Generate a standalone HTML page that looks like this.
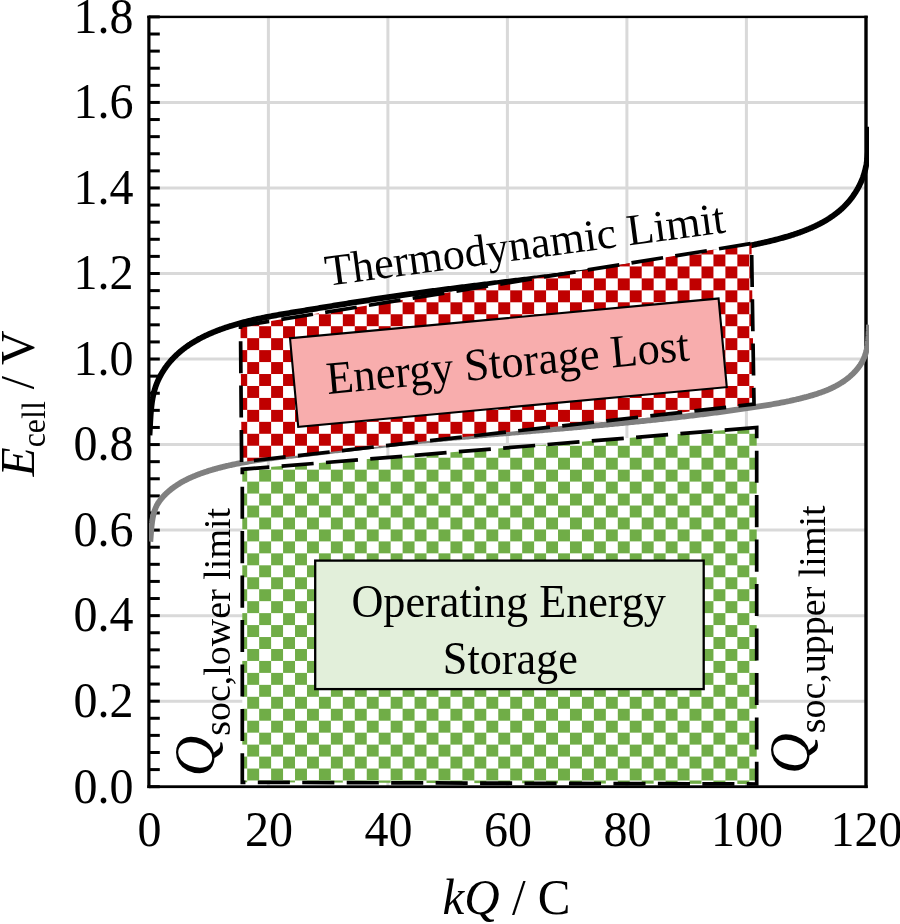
<!DOCTYPE html>
<html><head><meta charset="utf-8"><title>Energy storage chart</title>
<style>
html,body{margin:0;padding:0;background:#fff;}
svg{display:block;}
text{font-family:"Liberation Serif","DejaVu Serif",serif;fill:#000;}
</style></head><body>
<svg width="900" height="924" viewBox="0 0 900 924">
<defs>
<pattern id="chkR" patternUnits="userSpaceOnUse" x="259.15" y="326.2" width="23.91" height="23.91">
<rect x="0" y="0" width="23.91" height="23.91" fill="#fff"/>
<rect x="0" y="0" width="11.955" height="11.955" fill="#c00000"/><rect x="11.955" y="11.955" width="11.955" height="11.955" fill="#c00000"/>
</pattern>
<pattern id="chkG" patternUnits="userSpaceOnUse" x="259.15" y="326.2" width="23.91" height="23.91">
<rect x="0" y="0" width="23.91" height="23.91" fill="#fff"/>
<rect x="0" y="0" width="11.955" height="11.955" fill="#70ad47"/><rect x="11.955" y="11.955" width="11.955" height="11.955" fill="#70ad47"/>
</pattern>
</defs>
<rect width="900" height="924" fill="#fff"/>

<g stroke="#d9d9d9" stroke-width="3" fill="none">
<line x1="268.40" y1="16.9" x2="268.40" y2="786.7"/>
<line x1="387.90" y1="16.9" x2="387.90" y2="786.7"/>
<line x1="507.40" y1="16.9" x2="507.40" y2="786.7"/>
<line x1="626.90" y1="16.9" x2="626.90" y2="786.7"/>
<line x1="746.40" y1="16.9" x2="746.40" y2="786.7"/>
<line x1="148.9" y1="701.17" x2="866.0" y2="701.17"/>
<line x1="148.9" y1="615.63" x2="866.0" y2="615.63"/>
<line x1="148.9" y1="530.10" x2="866.0" y2="530.10"/>
<line x1="148.9" y1="444.57" x2="866.0" y2="444.57"/>
<line x1="148.9" y1="359.03" x2="866.0" y2="359.03"/>
<line x1="148.9" y1="273.50" x2="866.0" y2="273.50"/>
<line x1="148.9" y1="187.97" x2="866.0" y2="187.97"/>
<line x1="148.9" y1="102.43" x2="866.0" y2="102.43"/>
</g>
<g stroke="#000" stroke-width="3" fill="none">
<line x1="148.9" y1="786.70" x2="159.8" y2="786.70"/>
<line x1="148.9" y1="769.59" x2="159.8" y2="769.59"/>
<line x1="148.9" y1="752.49" x2="159.8" y2="752.49"/>
<line x1="148.9" y1="735.38" x2="159.8" y2="735.38"/>
<line x1="148.9" y1="718.27" x2="159.8" y2="718.27"/>
<line x1="148.9" y1="701.17" x2="159.8" y2="701.17"/>
<line x1="148.9" y1="684.06" x2="159.8" y2="684.06"/>
<line x1="148.9" y1="666.95" x2="159.8" y2="666.95"/>
<line x1="148.9" y1="649.85" x2="159.8" y2="649.85"/>
<line x1="148.9" y1="632.74" x2="159.8" y2="632.74"/>
<line x1="148.9" y1="615.63" x2="159.8" y2="615.63"/>
<line x1="148.9" y1="598.53" x2="159.8" y2="598.53"/>
<line x1="148.9" y1="581.42" x2="159.8" y2="581.42"/>
<line x1="148.9" y1="564.31" x2="159.8" y2="564.31"/>
<line x1="148.9" y1="547.21" x2="159.8" y2="547.21"/>
<line x1="148.9" y1="530.10" x2="159.8" y2="530.10"/>
<line x1="148.9" y1="512.99" x2="159.8" y2="512.99"/>
<line x1="148.9" y1="495.89" x2="159.8" y2="495.89"/>
<line x1="148.9" y1="478.78" x2="159.8" y2="478.78"/>
<line x1="148.9" y1="461.67" x2="159.8" y2="461.67"/>
<line x1="148.9" y1="444.57" x2="159.8" y2="444.57"/>
<line x1="148.9" y1="427.46" x2="159.8" y2="427.46"/>
<line x1="148.9" y1="410.35" x2="159.8" y2="410.35"/>
<line x1="148.9" y1="393.25" x2="159.8" y2="393.25"/>
<line x1="148.9" y1="376.14" x2="159.8" y2="376.14"/>
<line x1="148.9" y1="359.03" x2="159.8" y2="359.03"/>
<line x1="148.9" y1="341.93" x2="159.8" y2="341.93"/>
<line x1="148.9" y1="324.82" x2="159.8" y2="324.82"/>
<line x1="148.9" y1="307.71" x2="159.8" y2="307.71"/>
<line x1="148.9" y1="290.61" x2="159.8" y2="290.61"/>
<line x1="148.9" y1="273.50" x2="159.8" y2="273.50"/>
<line x1="148.9" y1="256.39" x2="159.8" y2="256.39"/>
<line x1="148.9" y1="239.29" x2="159.8" y2="239.29"/>
<line x1="148.9" y1="222.18" x2="159.8" y2="222.18"/>
<line x1="148.9" y1="205.07" x2="159.8" y2="205.07"/>
<line x1="148.9" y1="187.97" x2="159.8" y2="187.97"/>
<line x1="148.9" y1="170.86" x2="159.8" y2="170.86"/>
<line x1="148.9" y1="153.75" x2="159.8" y2="153.75"/>
<line x1="148.9" y1="136.65" x2="159.8" y2="136.65"/>
<line x1="148.9" y1="119.54" x2="159.8" y2="119.54"/>
<line x1="148.9" y1="102.43" x2="159.8" y2="102.43"/>
<line x1="148.9" y1="85.33" x2="159.8" y2="85.33"/>
<line x1="148.9" y1="68.22" x2="159.8" y2="68.22"/>
<line x1="148.9" y1="51.11" x2="159.8" y2="51.11"/>
<line x1="148.9" y1="34.01" x2="159.8" y2="34.01"/>
<line x1="148.9" y1="16.90" x2="159.8" y2="16.90"/>
</g>
<rect x="147.3" y="15.7" width="3.2" height="772.4000000000001" fill="#000"/>
<rect x="864.3" y="15.7" width="3.4" height="772.4000000000001" fill="#000"/>
<rect x="147.3" y="15.7" width="720.4" height="2.4" fill="#000"/>
<rect x="147.3" y="785.3000000000001" width="720.4" height="2.8" fill="#000"/>
<clipPath id="cp"><rect x="149" y="0" width="720" height="800"/></clipPath>
<path d="M150.29,541.65 L150.35,540.92 L150.40,540.40 L150.42,540.19 L150.48,539.47 L150.51,539.15 L150.54,538.74 L150.60,538.01 L150.61,537.90 L150.66,537.29 L150.71,536.65 L150.72,536.56 L150.77,535.84 L150.80,535.40 L150.82,535.11 L150.88,534.39 L150.90,534.15 L150.93,533.66 L150.99,532.94 L150.99,532.91 L151.04,532.22 L151.09,531.66 L151.10,531.50 L151.16,530.77 L151.19,530.42 L151.22,530.05 L151.28,529.34 L151.29,529.18 L151.34,528.62 L151.41,527.95 L151.41,527.90 L151.48,527.18 L151.53,526.72 L151.56,526.47 L151.64,525.76 L151.67,525.49 L151.72,525.04 L151.81,524.33 L151.81,524.26 L151.89,523.62 L151.96,523.04 L151.97,522.91 L152.06,522.21 L152.11,521.83 L152.16,521.50 L152.26,520.80 L152.29,520.62 L152.37,520.10 L152.48,519.42 L152.48,519.40 L152.60,518.70 L152.69,518.22 L152.73,518.01 L152.86,517.32 L152.92,517.02 L153.00,516.63 L153.15,515.94 L153.17,515.84 L153.31,515.25 L153.45,514.66 L153.47,514.57 L153.65,513.88 L153.75,513.49 L153.83,513.21 L154.02,512.53 L154.09,512.32 L154.23,511.86 L154.44,511.18 L154.44,511.17 L154.66,510.52 L154.83,510.02 L154.89,509.85 L155.14,509.19 L155.26,508.88 L155.39,508.53 L155.66,507.87 L155.71,507.75 L155.94,507.22 L156.20,506.62 L156.23,506.57 L156.53,505.92 L156.72,505.51 L156.84,505.28 L157.19,504.64 L157.32,504.41 L157.57,504.00 L157.97,503.36 L158.00,503.32 L158.38,502.73 L158.72,502.24 L158.80,502.11 L159.24,501.49 L159.47,501.17 L159.69,500.87 L160.14,500.25 L160.26,500.11 L160.61,499.64 L161.08,499.06 L161.10,499.03 L161.59,498.43 L161.93,498.02 L162.09,497.83 L162.61,497.24 L162.82,497.00 L163.14,496.65 L163.68,496.06 L163.74,495.99 L164.22,495.48 L164.69,494.99 L164.78,494.90 L165.35,494.33 L165.68,494.01 L165.93,493.76 L166.52,493.19 L166.69,493.03 L167.12,492.64 L167.73,492.08 L167.74,492.08 L168.35,491.53 L168.81,491.14 L168.98,490.99 L169.62,490.45 L169.91,490.21 L170.27,489.91 L170.93,489.38 L171.04,489.29 L171.59,488.86 L172.20,488.40 L172.27,488.34 L172.95,487.83 L173.38,487.52 L173.65,487.32 L174.35,486.82 L174.58,486.65 L175.06,486.32 L175.78,485.83 L175.82,485.80 L176.50,485.34 L177.07,484.97 L177.24,484.86 L177.98,484.39 L178.35,484.15 L178.73,483.92 L179.49,483.45 L179.65,483.35 L180.25,483.00 L180.98,482.57 L181.03,482.55 L181.81,482.10 L182.32,481.81 L182.59,481.66 L183.39,481.22 L183.69,481.06 L184.19,480.80 L184.99,480.37 L185.08,480.33 L185.81,479.95 L186.48,479.61 L186.63,479.54 L187.45,479.13 L187.90,478.91 L188.28,478.73 L189.12,478.33 L189.34,478.23 L189.97,477.94 L190.80,477.56 L190.81,477.56 L191.67,477.17 L192.28,476.91 L192.53,476.80 L193.40,476.43 L193.77,476.27 L194.27,476.06 L195.14,475.70 L195.27,475.64 L196.02,475.34 L196.79,475.03 L196.91,474.99 L197.80,474.64 L198.32,474.44 L198.69,474.30 L199.59,473.96 L199.87,473.86 L200.49,473.63 L201.40,473.30 L201.43,473.29 L202.31,472.97 L203.00,472.73 L203.22,472.65 L204.14,472.34 L204.58,472.19 L205.06,472.02 L205.98,471.72 L206.17,471.66 L206.91,471.41 L207.77,471.14 L207.84,471.11 L208.78,470.82 L209.37,470.63 L209.71,470.53 L210.65,470.24 L210.99,470.14 L211.59,469.96 L212.54,469.68 L212.61,469.66 L213.48,469.40 L214.24,469.19 L214.43,469.13 L215.38,468.87 L215.88,468.73 L216.33,468.60 L217.29,468.34 L217.52,468.28 L218.24,468.08 L219.16,467.84 L219.20,467.83 L220.16,467.58 L220.81,467.41 L221.11,467.34 L222.07,467.09 L222.46,467.00 L223.03,466.85 L224.00,466.62 L224.12,466.59 L224.96,466.38 L225.78,466.19 L225.92,466.15 L226.88,465.93 L227.43,465.80 L227.85,465.70 L228.81,465.48 L229.09,465.42 L229.77,465.27 L230.74,465.05 L230.75,465.05 L231.70,464.84 L232.41,464.69 L234.07,464.33 L235.73,463.99 L237.40,463.65 L239.06,463.32 L240.72,463.00 L242.39,462.69 L244.06,462.38 L245.73,462.08 L247.39,461.79 L249.06,461.50 L250.73,461.22 L252.41,460.94 L254.08,460.67 L255.75,460.41 L257.43,460.15 L259.10,459.90 L260.78,459.65 L262.45,459.41 L264.13,459.17 L265.81,458.94 L267.49,458.71 L269.17,458.48 L270.85,458.26 L272.53,458.04 L274.21,457.82 L275.90,457.61 L277.58,457.40 L279.27,457.19 L280.95,456.99 L282.64,456.78 L284.33,456.58 L286.01,456.38 L287.70,456.18 L289.39,455.99 L291.08,455.79 L292.77,455.60 L294.46,455.40 L296.16,455.21 L297.85,455.01 L299.54,454.82 L301.24,454.62 L302.93,454.41 L304.63,454.20 L306.33,454.00 L308.02,453.79 L309.72,453.58 L311.42,453.38 L313.12,453.17 L314.82,452.96 L316.52,452.75 L318.22,452.55 L319.92,452.34 L321.62,452.13 L323.33,451.92 L325.03,451.72 L326.73,451.51 L328.44,451.30 L330.14,451.09 L331.85,450.89 L333.55,450.68 L335.26,450.47 L336.97,450.27 L338.68,450.06 L340.38,449.85 L342.09,449.65 L343.80,449.44 L345.51,449.24 L347.22,449.03 L348.93,448.83 L350.64,448.62 L352.36,448.42 L354.07,448.22 L355.78,448.02 L357.49,447.81 L359.21,447.61 L360.92,447.41 L362.63,447.21 L364.35,447.01 L366.06,446.82 L367.78,446.62 L369.50,446.42 L371.21,446.23 L372.93,446.03 L374.65,445.84 L376.36,445.64 L378.08,445.45 L379.80,445.26 L381.52,445.07 L383.24,444.88 L384.95,444.69 L386.67,444.50 L388.39,444.31 L390.11,444.13 L391.83,443.94 L393.55,443.75 L395.27,443.57 L397.00,443.39 L398.72,443.20 L400.44,443.02 L402.16,442.84 L403.88,442.66 L405.60,442.48 L407.33,442.30 L409.05,442.12 L410.77,441.94 L412.50,441.77 L414.22,441.59 L415.94,441.41 L417.67,441.24 L419.39,441.06 L421.11,440.89 L422.84,440.72 L424.56,440.54 L426.29,440.37 L428.01,440.20 L429.74,440.03 L431.46,439.86 L433.19,439.69 L434.91,439.52 L436.64,439.35 L438.36,439.18 L440.09,439.01 L441.81,438.85 L443.54,438.68 L445.26,438.51 L446.99,438.35 L448.71,438.18 L450.44,438.02 L452.17,437.87 L453.89,437.71 L455.62,437.56 L457.34,437.41 L459.07,437.26 L460.79,437.11 L462.52,436.96 L464.25,436.81 L465.97,436.66 L467.70,436.51 L469.42,436.36 L471.15,436.21 L472.87,436.06 L474.60,435.91 L476.32,435.76 L478.05,435.62 L479.77,435.47 L481.50,435.32 L483.22,435.17 L484.95,435.03 L486.67,434.88 L488.40,434.73 L490.12,434.59 L491.85,434.44 L493.57,434.30 L495.29,434.15 L497.02,434.01 L498.74,433.86 L500.47,433.72 L502.19,433.57 L503.91,433.43 L505.64,433.28 L507.36,433.14 L509.08,432.99 L510.80,432.85 L512.53,432.70 L514.25,432.56 L515.97,432.41 L517.69,432.27 L519.41,432.13 L521.13,431.98 L522.86,431.84 L524.58,431.69 L526.30,431.55 L528.02,431.41 L529.74,431.26 L531.46,431.12 L533.18,430.97 L534.90,430.83 L536.62,430.68 L538.34,430.54 L540.06,430.39 L541.78,430.25 L543.50,430.10 L545.22,429.96 L546.94,429.81 L548.66,429.67 L550.37,429.52 L552.09,429.37 L553.81,429.23 L555.53,429.08 L557.25,428.93 L558.97,428.79 L560.68,428.64 L562.40,428.49 L564.12,428.34 L565.84,428.19 L567.55,428.05 L569.27,427.90 L570.99,427.75 L572.70,427.60 L574.42,427.45 L576.14,427.30 L577.85,427.15 L579.57,426.99 L581.28,426.84 L583.00,426.69 L584.71,426.54 L586.43,426.39 L588.15,426.23 L589.86,426.08 L591.57,425.92 L593.29,425.77 L595.00,425.61 L596.72,425.46 L598.43,425.30 L600.15,425.14 L601.86,424.99 L603.57,424.83 L605.29,424.67 L607.00,424.51 L608.71,424.35 L610.43,424.19 L612.14,424.03 L613.85,423.86 L615.57,423.70 L617.28,423.54 L618.99,423.37 L620.70,423.21 L622.41,423.04 L624.13,422.88 L625.84,422.71 L627.55,422.54 L629.26,422.38 L630.97,422.21 L632.68,422.04 L634.39,421.87 L636.10,421.69 L637.81,421.52 L639.52,421.35 L641.23,421.17 L642.94,421.00 L644.65,420.82 L646.36,420.65 L648.07,420.47 L649.78,420.29 L651.49,420.11 L653.20,419.93 L654.91,419.75 L656.62,419.57 L658.33,419.39 L660.04,419.20 L661.74,419.02 L663.45,418.83 L665.16,418.64 L666.87,418.46 L668.58,418.27 L670.28,418.08 L671.99,417.88 L673.70,417.69 L675.40,417.50 L677.11,417.30 L678.82,417.11 L680.52,416.91 L682.23,416.71 L683.94,416.52 L685.64,416.32 L687.35,416.11 L689.05,415.91 L690.76,415.71 L692.47,415.50 L694.17,415.30 L695.88,415.09 L697.58,414.88 L699.29,414.67 L700.99,414.46 L702.69,414.25 L704.40,414.03 L706.10,413.82 L707.81,413.60 L709.51,413.39 L711.21,413.17 L712.92,412.95 L714.62,412.72 L716.33,412.50 L718.03,412.28 L719.73,412.05 L721.43,411.82 L723.14,411.60 L724.84,411.37 L726.54,411.13 L728.24,410.90 L729.95,410.67 L731.65,410.43 L733.35,410.19 L735.05,409.95 L736.75,409.71 L738.45,409.47 L740.15,409.23 L741.85,408.98 L743.56,408.74 L745.26,408.49 L746.96,408.24 L748.66,407.99 L750.36,407.73 L752.06,407.48 L753.76,407.22 L755.46,406.97 L757.16,406.71 L758.85,406.44 L760.55,406.18 L762.25,405.91 L763.95,405.64 L765.64,405.37 L767.34,405.09 L769.03,404.81 L770.72,404.53 L772.41,404.24 L774.10,403.95 L775.79,403.65 L777.47,403.34 L779.15,403.03 L780.83,402.71 L782.51,402.39 L784.18,402.06 L785.85,401.73 L787.52,401.38 L788.23,401.23 L789.18,401.03 L789.19,401.03 L790.16,400.82 L790.84,400.67 L791.12,400.61 L792.08,400.40 L792.50,400.31 L793.04,400.18 L794.00,399.96 L794.15,399.93 L794.96,399.74 L795.80,399.55 L795.92,399.52 L796.87,399.29 L797.44,399.15 L797.83,399.06 L798.78,398.82 L799.08,398.75 L799.73,398.59 L800.68,398.36 L800.71,398.35 L801.63,398.13 L802.34,397.95 L802.57,397.90 L803.52,397.66 L803.97,397.55 L804.46,397.42 L805.40,397.18 L805.59,397.13 L806.34,396.93 L807.20,396.70 L807.28,396.68 L808.21,396.43 L808.81,396.26 L809.14,396.17 L810.07,395.91 L810.41,395.81 L811.00,395.64 L811.93,395.37 L812.00,395.35 L812.85,395.10 L813.59,394.88 L813.77,394.82 L814.69,394.54 L815.17,394.39 L815.60,394.25 L816.51,393.96 L816.73,393.89 L817.41,393.66 L818.29,393.37 L818.32,393.36 L819.21,393.06 L819.83,392.85 L820.11,392.75 L821.00,392.44 L821.36,392.31 L821.89,392.12 L822.77,391.79 L822.88,391.75 L823.64,391.46 L824.39,391.18 L824.52,391.13 L825.38,390.79 L825.88,390.60 L826.25,390.45 L827.10,390.10 L827.36,390.00 L827.96,389.75 L828.80,389.39 L828.82,389.38 L829.65,389.02 L830.26,388.75 L830.48,388.64 L831.31,388.26 L831.69,388.08 L832.13,387.86 L832.95,387.46 L833.10,387.39 L833.76,387.05 L834.49,386.69 L834.57,386.64 L835.37,386.23 L835.86,385.97 L836.16,385.80 L836.94,385.38 L837.21,385.23 L837.72,384.94 L838.49,384.50 L838.54,384.47 L839.26,384.06 L839.85,383.70 L840.01,383.60 L840.76,383.14 L841.13,382.91 L841.50,382.68 L842.23,382.21 L842.40,382.10 L842.96,381.73 L843.64,381.28 L843.68,381.25 L844.38,380.76 L844.85,380.43 L845.08,380.26 L845.78,379.76 L846.04,379.57 L846.46,379.25 L847.13,378.74 L847.21,378.68 L847.80,378.22 L848.34,377.78 L848.45,377.69 L849.10,377.16 L849.45,376.86 L849.74,376.62 L850.37,376.07 L850.54,375.92 L850.99,375.52 L851.59,374.97 L851.60,374.97 L852.20,374.41 L852.62,374.00 L852.79,373.84 L853.37,373.27 L853.61,373.02 L853.93,372.69 L854.49,372.11 L854.58,372.02 L855.04,371.52 L855.52,371.00 L855.58,370.93 L856.11,370.33 L856.42,369.97 L856.63,369.73 L857.14,369.12 L857.30,368.93 L857.63,368.51 L858.12,367.90 L858.14,367.87 L858.59,367.28 L858.95,366.80 L859.06,366.65 L859.51,366.03 L859.72,365.72 L859.95,365.39 L860.38,364.73 L860.47,364.59 L860.80,364.05 L861.17,363.42 L861.20,363.37 L861.60,362.69 L861.85,362.25 L861.98,362.01 L862.35,361.33 L862.48,361.07 L862.71,360.64 L863.05,359.95 L863.08,359.89 L863.39,359.26 L863.65,358.70 L863.71,358.56 L864.01,357.87 L864.17,357.50 L864.31,357.17 L864.59,356.47 L864.66,356.30 L864.86,355.77 L865.11,355.09 L865.12,355.07 L865.36,354.37 L865.52,353.88 L865.59,353.66 L865.81,352.96 L865.89,352.66 L866.01,352.25 L866.21,351.56 L866.23,351.46 L866.39,350.86 L866.54,350.27 L866.56,350.17 L866.73,349.47 L866.82,349.06 L866.88,348.77 L867.02,348.07 L867.06,347.86 L867.16,347.37 L867.28,346.66 L867.28,346.65 L867.40,345.96 L867.48,345.43 L867.51,345.25 L867.61,344.54 L867.65,344.21 L867.70,343.83 L867.79,343.12 L867.81,342.99 L867.87,342.41 L867.94,341.77 L867.95,341.70 L868.02,340.99 L868.06,340.55 L868.09,340.28 L868.15,339.57 L868.17,339.32 L868.21,338.85 L868.26,338.14 L868.26,338.09 L868.31,337.43 L868.35,336.86 L868.36,336.71 L868.40,336.00 L868.43,335.64 L868.45,335.29 L868.49,334.57 L868.50,334.41 L868.53,333.86 L868.57,333.18 L868.57,333.15 L868.61,332.44 L868.63,331.96 L868.64,331.73 L868.68,331.01 L868.70,330.73 L868.72,330.31 L868.77,329.60 L868.77,329.51 L868.81,328.89 L868.85,328.30 L868.85,328.18 L868.90,327.48 L868.93,327.08 L868.95,326.77 L869.01,326.07 L869.02,325.88 L869.06,325.37 L869.12,324.67" stroke="#808080" stroke-width="5.8" fill="none" stroke-linejoin="round" clip-path="url(#cp)"/>
<path d="M149.49,435.37 L149.55,434.33 L149.60,433.58 L149.62,433.29 L149.68,432.25 L149.71,431.79 L149.74,431.22 L149.80,430.18 L149.81,430.01 L149.86,429.14 L149.91,428.22 L149.92,428.10 L149.97,427.07 L150.00,426.44 L150.02,426.03 L150.08,425.00 L150.10,424.66 L150.13,423.96 L150.19,422.93 L150.19,422.88 L150.24,421.90 L150.29,421.10 L150.30,420.87 L150.36,419.84 L150.39,419.33 L150.42,418.81 L150.48,417.78 L150.49,417.56 L150.54,416.75 L150.61,415.80 L150.61,415.73 L150.68,414.71 L150.73,414.04 L150.76,413.68 L150.84,412.66 L150.87,412.28 L150.92,411.65 L151.01,410.63 L151.02,410.53 L151.10,409.62 L151.18,408.79 L151.20,408.61 L151.30,407.60 L151.36,407.06 L151.41,406.59 L151.53,405.59 L151.56,405.33 L151.65,404.59 L151.78,403.61 L151.78,403.59 L151.92,402.59 L152.02,401.90 L152.07,401.60 L152.22,400.61 L152.29,400.19 L152.39,399.62 L152.56,398.64 L152.58,398.50 L152.74,397.66 L152.91,396.81 L152.93,396.68 L153.13,395.71 L153.26,395.14 L153.34,394.74 L153.57,393.77 L153.64,393.48 L153.80,392.81 L154.05,391.85 L154.05,391.82 L154.30,390.89 L154.50,390.18 L154.57,389.94 L154.85,389.00 L154.99,388.55 L155.15,388.05 L155.45,387.12 L155.51,386.94 L155.77,386.18 L156.08,385.34 L156.11,385.25 L156.45,384.33 L156.68,383.75 L156.81,383.41 L157.19,382.49 L157.32,382.17 L157.57,381.58 L157.97,380.68 L158.00,380.61 L158.38,379.78 L158.72,379.07 L158.80,378.88 L159.24,377.99 L159.47,377.54 L159.69,377.11 L160.14,376.23 L160.26,376.02 L160.61,375.36 L161.08,374.53 L161.10,374.49 L161.59,373.63 L161.93,373.05 L162.09,372.77 L162.61,371.92 L162.82,371.58 L163.14,371.08 L163.68,370.24 L163.74,370.14 L164.22,369.41 L164.69,368.71 L164.78,368.59 L165.35,367.77 L165.68,367.31 L165.93,366.95 L166.52,366.15 L166.69,365.92 L167.12,365.35 L167.73,364.56 L167.74,364.55 L168.35,363.77 L168.81,363.21 L168.98,363.00 L169.62,362.22 L169.91,361.88 L170.27,361.46 L170.93,360.70 L171.04,360.58 L171.59,359.96 L172.20,359.30 L172.27,359.21 L172.95,358.48 L173.38,358.04 L173.65,357.75 L174.35,357.04 L174.58,356.80 L175.06,356.33 L175.78,355.62 L175.82,355.59 L176.50,354.93 L177.07,354.40 L177.24,354.24 L177.98,353.56 L178.35,353.23 L178.73,352.90 L179.49,352.23 L179.65,352.09 L180.25,351.58 L180.98,350.98 L181.03,350.94 L181.81,350.30 L182.32,349.88 L182.59,349.67 L183.39,349.05 L183.69,348.82 L184.19,348.44 L184.99,347.83 L185.08,347.77 L185.81,347.23 L186.48,346.75 L186.63,346.64 L187.45,346.06 L187.90,345.75 L188.28,345.49 L189.12,344.92 L189.34,344.77 L189.97,344.36 L190.80,343.82 L190.81,343.81 L191.67,343.26 L192.28,342.88 L192.53,342.73 L193.40,342.19 L193.77,341.97 L194.27,341.67 L195.14,341.15 L195.27,341.08 L196.02,340.64 L196.79,340.21 L196.91,340.14 L197.80,339.64 L198.32,339.35 L198.69,339.15 L199.59,338.67 L199.87,338.52 L200.49,338.19 L201.40,337.72 L201.43,337.71 L202.31,337.26 L203.00,336.91 L203.22,336.80 L204.14,336.35 L204.58,336.14 L205.06,335.91 L205.98,335.47 L206.17,335.38 L206.91,335.03 L207.77,334.64 L207.84,334.61 L208.78,334.18 L209.37,333.92 L209.71,333.77 L210.65,333.36 L210.99,333.21 L211.59,332.96 L212.54,332.56 L212.61,332.52 L213.48,332.16 L214.24,331.85 L214.43,331.78 L215.38,331.39 L215.88,331.20 L216.33,331.02 L217.29,330.64 L217.52,330.55 L218.24,330.28 L219.16,329.93 L219.20,329.92 L220.16,329.56 L220.81,329.32 L221.11,329.21 L222.07,328.86 L222.46,328.72 L223.03,328.52 L224.00,328.18 L224.12,328.14 L224.96,327.85 L225.78,327.57 L225.92,327.52 L226.88,327.20 L227.43,327.02 L227.85,326.88 L228.81,326.56 L229.09,326.47 L229.77,326.25 L230.74,325.95 L230.75,325.94 L231.70,325.65 L232.41,325.43 L234.07,324.92 L235.73,324.43 L237.40,323.95 L239.06,323.48 L240.72,323.02 L242.39,322.57 L244.06,322.13 L245.73,321.70 L247.39,321.28 L249.06,320.87 L250.73,320.47 L252.41,320.08 L254.08,319.69 L255.75,319.32 L257.43,318.95 L259.10,318.59 L260.78,318.23 L262.45,317.88 L264.13,317.54 L265.81,317.21 L267.49,316.88 L269.17,316.56 L270.85,316.24 L272.53,315.93 L274.21,315.62 L275.90,315.31 L277.58,315.01 L279.27,314.72 L280.95,314.42 L282.64,314.13 L284.33,313.85 L286.01,313.56 L287.70,313.28 L289.39,313.00 L291.08,312.72 L292.77,312.44 L294.46,312.16 L296.16,311.88 L297.85,311.61 L299.54,311.33 L301.24,311.05 L302.93,310.77 L304.63,310.49 L306.33,310.21 L308.02,309.94 L309.72,309.66 L311.42,309.38 L313.12,309.10 L314.82,308.82 L316.52,308.54 L318.22,308.25 L319.92,307.97 L321.62,307.69 L323.33,307.41 L325.03,307.13 L326.73,306.85 L328.44,306.57 L330.14,306.29 L331.85,306.01 L333.55,305.73 L335.26,305.45 L336.97,305.17 L338.68,304.90 L340.38,304.62 L342.09,304.34 L343.80,304.06 L345.51,303.79 L347.22,303.51 L348.93,303.23 L350.64,302.96 L352.36,302.69 L354.07,302.41 L355.78,302.14 L357.49,301.87 L359.21,301.60 L360.92,301.33 L362.63,301.06 L364.35,300.79 L366.06,300.52 L367.78,300.26 L369.50,299.99 L371.21,299.73 L372.93,299.47 L374.65,299.20 L376.36,298.94 L378.08,298.69 L379.80,298.43 L381.52,298.17 L383.24,297.92 L384.95,297.66 L386.67,297.41 L388.39,297.16 L390.11,296.91 L391.83,296.66 L393.55,296.41 L395.27,296.16 L397.00,295.92 L398.72,295.67 L400.44,295.43 L402.16,295.19 L403.88,294.94 L405.60,294.70 L407.33,294.46 L409.05,294.23 L410.77,293.99 L412.50,293.75 L414.22,293.52 L415.94,293.28 L417.67,293.05 L419.39,292.81 L421.11,292.58 L422.84,292.35 L424.56,292.12 L426.29,291.89 L428.01,291.66 L429.74,291.43 L431.46,291.21 L433.19,290.98 L434.91,290.75 L436.64,290.53 L438.36,290.30 L440.09,290.08 L441.81,289.86 L443.54,289.64 L445.26,289.42 L446.99,289.20 L448.71,288.98 L450.44,288.76 L452.17,288.54 L453.89,288.32 L455.62,288.10 L457.34,287.88 L459.07,287.67 L460.79,287.45 L462.52,287.24 L464.25,287.02 L465.97,286.81 L467.70,286.59 L469.42,286.38 L471.15,286.17 L472.87,285.96 L474.60,285.74 L476.32,285.53 L478.05,285.32 L479.77,285.11 L481.50,284.90 L483.22,284.69 L484.95,284.48 L486.67,284.27 L488.40,284.06 L490.12,283.85 L491.85,283.65 L493.57,283.44 L495.29,283.23 L497.02,283.02 L498.74,282.81 L500.47,282.61 L502.19,282.40 L503.91,282.19 L505.64,281.99 L507.36,281.78 L509.08,281.57 L510.80,281.37 L512.53,281.16 L514.25,280.96 L515.97,280.75 L517.69,280.54 L519.41,280.34 L521.13,280.13 L522.86,279.93 L524.58,279.72 L526.30,279.51 L528.02,279.31 L529.74,279.10 L531.46,278.89 L533.18,278.69 L534.90,278.48 L536.62,278.28 L538.34,278.07 L540.06,277.86 L541.78,277.65 L543.50,277.45 L545.22,277.24 L546.94,277.03 L548.66,276.82 L550.37,276.61 L552.09,276.40 L553.81,276.20 L555.53,275.99 L557.25,275.78 L558.97,275.57 L560.68,275.36 L562.40,275.14 L564.12,274.93 L565.84,274.72 L567.55,274.51 L569.27,274.30 L570.99,274.08 L572.70,273.87 L574.42,273.65 L576.14,273.44 L577.85,273.22 L579.57,273.01 L581.28,272.79 L583.00,272.57 L584.71,272.35 L586.43,272.14 L588.15,271.92 L589.86,271.70 L591.57,271.48 L593.29,271.25 L595.00,271.03 L596.72,270.81 L598.43,270.59 L600.15,270.36 L601.86,270.14 L603.57,269.91 L605.29,269.68 L607.00,269.46 L608.71,269.23 L610.43,269.00 L612.14,268.77 L613.85,268.54 L615.57,268.30 L617.28,268.07 L618.99,267.84 L620.70,267.60 L622.41,267.36 L624.13,267.13 L625.84,266.89 L627.55,266.65 L629.26,266.41 L630.97,266.17 L632.68,265.92 L634.39,265.68 L636.10,265.43 L637.81,265.19 L639.52,264.94 L641.23,264.69 L642.94,264.44 L644.65,264.19 L646.36,263.94 L648.07,263.69 L649.78,263.43 L651.49,263.17 L653.20,262.92 L654.91,262.66 L656.62,262.40 L658.33,262.14 L660.04,261.87 L661.74,261.61 L663.45,261.34 L665.16,261.08 L666.87,260.81 L668.58,260.54 L670.28,260.27 L671.99,259.99 L673.70,259.72 L675.40,259.44 L677.11,259.16 L678.82,258.88 L680.52,258.60 L682.23,258.32 L683.94,258.04 L685.64,257.75 L687.35,257.46 L689.05,257.17 L690.76,256.88 L692.47,256.59 L694.17,256.30 L695.88,256.00 L697.58,255.70 L699.29,255.40 L700.99,255.10 L702.69,254.80 L704.40,254.49 L706.10,254.18 L707.81,253.88 L709.51,253.56 L711.21,253.25 L712.92,252.94 L714.62,252.62 L716.33,252.30 L718.03,251.98 L719.73,251.66 L721.43,251.33 L723.14,251.01 L724.84,250.68 L726.54,250.35 L728.24,250.02 L729.95,249.68 L731.65,249.34 L733.35,249.00 L735.05,248.66 L736.75,248.32 L738.45,247.97 L740.15,247.63 L741.85,247.28 L743.56,246.92 L745.26,246.57 L746.96,246.21 L748.66,245.85 L750.36,245.49 L752.06,245.13 L753.76,244.76 L755.46,244.39 L757.16,244.02 L758.85,243.65 L760.55,243.27 L762.25,242.89 L763.95,242.51 L765.64,242.12 L767.34,241.72 L769.03,241.32 L770.72,240.91 L772.41,240.50 L774.10,240.08 L775.79,239.65 L777.47,239.22 L779.15,238.77 L780.83,238.32 L782.51,237.86 L784.18,237.39 L785.85,236.91 L787.52,236.42 L788.23,236.21 L789.18,235.92 L789.19,235.91 L790.16,235.62 L790.84,235.40 L791.12,235.32 L792.08,235.01 L792.50,234.88 L793.04,234.70 L794.00,234.39 L794.15,234.34 L794.96,234.07 L795.80,233.79 L795.92,233.75 L796.87,233.43 L797.44,233.23 L797.83,233.10 L798.78,232.76 L799.08,232.66 L799.73,232.42 L800.68,232.08 L800.71,232.07 L801.63,231.73 L802.34,231.46 L802.57,231.38 L803.52,231.02 L803.97,230.84 L804.46,230.65 L805.40,230.28 L805.59,230.21 L806.34,229.91 L807.20,229.56 L807.28,229.53 L808.21,229.14 L808.81,228.90 L809.14,228.75 L810.07,228.36 L810.41,228.21 L811.00,227.96 L811.93,227.55 L812.00,227.51 L812.85,227.14 L813.59,226.80 L813.77,226.72 L814.69,226.29 L815.17,226.06 L815.60,225.86 L816.51,225.42 L816.73,225.31 L817.41,224.98 L818.29,224.54 L818.32,224.53 L819.21,224.07 L819.83,223.75 L820.11,223.61 L821.00,223.14 L821.36,222.94 L821.89,222.66 L822.77,222.18 L822.88,222.11 L823.64,221.69 L824.39,221.26 L824.52,221.19 L825.38,220.68 L825.88,220.39 L826.25,220.17 L827.10,219.65 L827.36,219.50 L827.96,219.13 L828.80,218.60 L828.82,218.59 L829.65,218.05 L830.26,217.65 L830.48,217.51 L831.31,216.95 L831.69,216.69 L832.13,216.39 L832.95,215.81 L833.10,215.71 L833.76,215.24 L834.49,214.71 L834.57,214.65 L835.37,214.05 L835.86,213.68 L836.16,213.45 L836.94,212.84 L837.21,212.63 L837.72,212.22 L838.49,211.59 L838.54,211.55 L839.26,210.95 L839.85,210.44 L840.01,210.30 L840.76,209.65 L841.13,209.32 L841.50,208.99 L842.23,208.31 L842.40,208.16 L842.96,207.63 L843.64,206.98 L843.68,206.94 L844.38,206.24 L844.85,205.77 L845.08,205.54 L845.78,204.82 L846.04,204.54 L846.46,204.09 L847.13,203.36 L847.21,203.27 L847.80,202.61 L848.34,201.99 L848.45,201.86 L849.10,201.10 L849.45,200.67 L849.74,200.33 L850.37,199.55 L850.54,199.34 L850.99,198.76 L851.59,197.97 L851.60,197.97 L852.20,197.17 L852.62,196.59 L852.79,196.36 L853.37,195.54 L853.61,195.18 L853.93,194.71 L854.49,193.88 L854.58,193.75 L855.04,193.04 L855.52,192.30 L855.58,192.20 L856.11,191.34 L856.42,190.83 L856.63,190.48 L857.14,189.62 L857.30,189.34 L857.63,188.75 L858.12,187.87 L858.14,187.83 L858.59,186.98 L858.95,186.30 L859.06,186.09 L859.51,185.19 L859.72,184.76 L859.95,184.29 L860.38,183.38 L860.47,183.19 L860.80,182.47 L861.17,181.62 L861.20,181.55 L861.60,180.62 L861.85,180.02 L861.98,179.69 L862.35,178.76 L862.48,178.41 L862.71,177.82 L863.05,176.88 L863.08,176.79 L863.39,175.93 L863.65,175.16 L863.71,174.98 L864.01,174.02 L864.17,173.51 L864.31,173.06 L864.59,172.09 L864.66,171.85 L864.86,171.12 L865.11,170.18 L865.12,170.15 L865.36,169.18 L865.52,168.50 L865.59,168.20 L865.81,167.21 L865.89,166.80 L866.01,166.23 L866.21,165.24 L866.23,165.10 L866.39,164.25 L866.54,163.39 L866.56,163.25 L866.73,162.26 L866.82,161.68 L866.88,161.26 L867.02,160.26 L867.06,159.95 L867.16,159.25 L867.28,158.25 L867.28,158.22 L867.40,157.24 L867.48,156.49 L867.51,156.23 L867.61,155.22 L867.65,154.75 L867.70,154.21 L867.79,153.19 L867.81,153.01 L867.87,152.18 L867.94,151.26 L867.95,151.16 L868.02,150.14 L868.06,149.51 L868.09,149.13 L868.15,148.11 L868.17,147.76 L868.21,147.09 L868.26,146.07 L868.26,146.00 L868.31,145.05 L868.35,144.25 L868.36,144.03 L868.40,143.01 L868.43,142.49 L868.45,141.99 L868.49,140.98 L868.50,140.74 L868.53,139.96 L868.57,138.99 L868.57,138.94 L868.61,137.92 L868.63,137.24 L868.64,136.91 L868.68,135.89 L868.70,135.49 L868.72,134.88 L868.77,133.87 L868.77,133.75 L868.81,132.86 L868.85,132.01 L868.85,131.85 L868.90,130.84 L868.93,130.28 L868.95,129.83 L869.01,128.83 L869.02,128.55 L869.06,127.83 L869.12,126.83" stroke="#000" stroke-width="5.8" fill="none" stroke-linejoin="round" clip-path="url(#cp)"/>
<polygon points="242.3,469.3 756.7,427.5 756.7,784 242.3,782.3" fill="url(#chkG)" stroke="none"/>
<polygon points="240.5,326 751.5,243.5 754,404.2 241.6,461.9" fill="url(#chkR)" stroke="none"/>
<path d="M756.7,427.5 L242.3,469.3 L242.3,782.3 L756.7,784 Z" pathLength="38.243" fill="none" stroke="#000" stroke-width="3.7" stroke-dasharray="0.722 0.278" stroke-linejoin="miter"/>
<path d="M241.6,461.9 L240.5,326 L751.5,243.5 L754,404.2 Z" pathLength="30" fill="none" stroke="#000" stroke-width="3.7" stroke-dasharray="0.722 0.278" stroke-linejoin="miter"/>
<g transform="translate(508.4,362.7) rotate(-5.3)"><rect x="-215.2" y="-44.5" width="430.4" height="89" fill="#f8adad" stroke="#000" stroke-width="2.1"/></g>
<text transform="translate(509.1,377.1) rotate(-5.3) scale(1,1.04)" font-size="44.4" text-anchor="middle">Energy Storage Lost</text>
<text transform="translate(526.7,259.1) rotate(-7.65) scale(1,1.0)" font-size="44.4" text-anchor="middle">Thermodynamic Limit</text>
<rect x="315.2" y="560.6" width="388.5" height="128.5" fill="#e2efda" stroke="#000" stroke-width="2.3"/>
<text transform="translate(508.7,617.4) scale(1,1.04)" font-size="44.2" text-anchor="middle">Operating Energy</text>
<text transform="translate(510.3,674) scale(1,1.04)" font-size="44.2" text-anchor="middle">Storage</text>
<text transform="translate(214.3,776.3) rotate(-90) scale(1,1.02)" font-size="56" text-anchor="start"><tspan font-style="italic">Q</tspan><tspan font-size="38" dy="15.1">soc,lower limit</tspan></text>
<text transform="translate(809.3,773.8) rotate(-90) scale(1,1.02)" font-size="56" text-anchor="start"><tspan font-style="italic">Q</tspan><tspan font-size="38" dy="15.1">soc,upper limit</tspan></text>
<text transform="translate(133.6,802.5) scale(1,1.05)" font-size="48" text-anchor="end">0.0</text>
<text transform="translate(133.6,717.0) scale(1,1.05)" font-size="48" text-anchor="end">0.2</text>
<text transform="translate(133.6,631.4) scale(1,1.05)" font-size="48" text-anchor="end">0.4</text>
<text transform="translate(133.6,545.9) scale(1,1.05)" font-size="48" text-anchor="end">0.6</text>
<text transform="translate(133.6,460.4) scale(1,1.05)" font-size="48" text-anchor="end">0.8</text>
<text transform="translate(133.6,374.8) scale(1,1.05)" font-size="48" text-anchor="end">1.0</text>
<text transform="translate(133.6,289.3) scale(1,1.05)" font-size="48" text-anchor="end">1.2</text>
<text transform="translate(133.6,203.8) scale(1,1.05)" font-size="48" text-anchor="end">1.4</text>
<text transform="translate(133.6,118.2) scale(1,1.05)" font-size="48" text-anchor="end">1.6</text>
<text transform="translate(133.6,32.7) scale(1,1.05)" font-size="48" text-anchor="end">1.8</text>
<text transform="translate(149.4,846.3) scale(1,1.05)" font-size="48" text-anchor="middle">0</text>
<text transform="translate(268.9,846.3) scale(1,1.05)" font-size="48" text-anchor="middle">20</text>
<text transform="translate(388.4,846.3) scale(1,1.05)" font-size="48" text-anchor="middle">40</text>
<text transform="translate(507.9,846.3) scale(1,1.05)" font-size="48" text-anchor="middle">60</text>
<text transform="translate(627.4,846.3) scale(1,1.05)" font-size="48" text-anchor="middle">80</text>
<text transform="translate(746.9,846.3) scale(1,1.05)" font-size="48" text-anchor="middle">100</text>
<text transform="translate(866.4,846.3) scale(1,1.05)" font-size="48" text-anchor="middle">120</text>
<text transform="translate(506.5,914) scale(1,1.05)" font-size="49" text-anchor="middle"><tspan font-style="italic">kQ</tspan> / C</text>
<text transform="translate(34,403.5) rotate(-90) scale(1,1.02)" font-size="47.7" text-anchor="middle"><tspan font-style="italic">E</tspan><tspan font-size="32" dy="10.7">cell</tspan><tspan dy="-10.7"> / V</tspan></text>
</svg></body></html>
